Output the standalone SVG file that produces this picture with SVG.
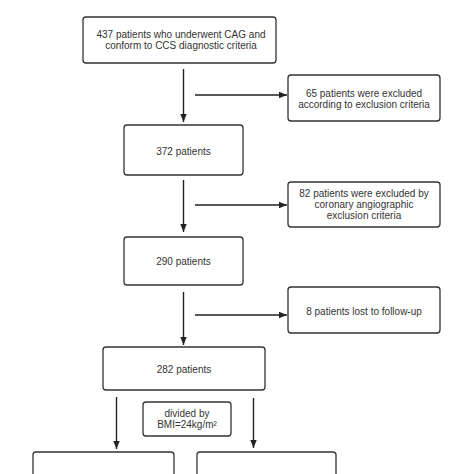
<svg xmlns="http://www.w3.org/2000/svg" width="474" height="474" viewBox="0 0 474 474">
<defs>
<marker id="ah" viewBox="0 0 10 10" refX="10" refY="5" markerWidth="8" markerHeight="8" markerUnits="userSpaceOnUse" orient="auto">
<path d="M0,1 L10,5 L0,9 z" fill="#222"/>
</marker>
<style>
.box{fill:#fff;stroke:#333;stroke-width:1.3}
.t{font-family:"Liberation Sans",Arial,sans-serif;font-size:10px;fill:#333;text-anchor:middle}
.c{stroke:#222;stroke-width:1.4;fill:none;marker-end:url(#ah)}
</style>
</defs>
<rect width="474" height="474" fill="#fff"/>
<g id="connectors">
<line class="c" x1="183.5" y1="69" x2="183.5" y2="122"/>
<line class="c" x1="195" y1="95" x2="287" y2="95"/>
<line class="c" x1="183.5" y1="180" x2="183.5" y2="232"/>
<line class="c" x1="195" y1="205" x2="287" y2="205"/>
<line class="c" x1="183.5" y1="292" x2="183.5" y2="345"/>
<line class="c" x1="195" y1="315" x2="287" y2="315"/>
<line class="c" x1="116.5" y1="397" x2="116.5" y2="449"/>
<line class="c" x1="253.5" y1="398" x2="253.5" y2="448"/>
</g>
<g id="n437">
<rect class="box" x="83" y="17" width="193" height="46" rx="3"/>
<text class="t" x="181" y="38">437 patients who underwent CAG and</text>
<text class="t" x="181" y="49">conform to CCS diagnostic criteria</text>
</g>
<g id="ex65">
<rect class="box" x="288" y="75" width="152" height="46" rx="3"/>
<text class="t" x="364" y="97">65 patients were excluded</text>
<text class="t" x="364" y="108">according to exclusion criteria</text>
</g>
<g id="n372">
<rect class="box" x="124" y="125" width="119" height="50" rx="3"/>
<text class="t" x="183.5" y="155">372 patients</text>
</g>
<g id="ex82">
<rect class="box" x="288" y="182" width="152" height="45" rx="3"/>
<text class="t" x="364" y="197">82 patients were excluded by</text>
<text class="t" x="364" y="208">coronary angiographic</text>
<text class="t" x="364" y="219">exclusion criteria</text>
</g>
<g id="n290">
<rect class="box" x="124" y="237" width="119" height="48" rx="3"/>
<text class="t" x="183.5" y="265">290 patients</text>
</g>
<g id="ex8">
<rect class="box" x="288" y="287" width="152" height="46" rx="3"/>
<text class="t" x="364" y="315">8 patients lost to follow-up</text>
</g>
<g id="n282">
<rect class="box" x="103" y="347" width="162" height="43" rx="3"/>
<text class="t" x="184" y="373">282 patients</text>
</g>
<g id="bmi">
<rect class="box" x="143" y="402" width="88" height="34" rx="3"/>
<text class="t" x="187" y="417">divided by</text>
<text class="t" x="187" y="428">BMI=24kg/m²</text>
</g>
<g id="low">
<rect class="box" x="33" y="452" width="141" height="40" rx="3"/>
</g>
<g id="high">
<rect class="box" x="197" y="452" width="139" height="40" rx="3"/>
</g>
</svg>
